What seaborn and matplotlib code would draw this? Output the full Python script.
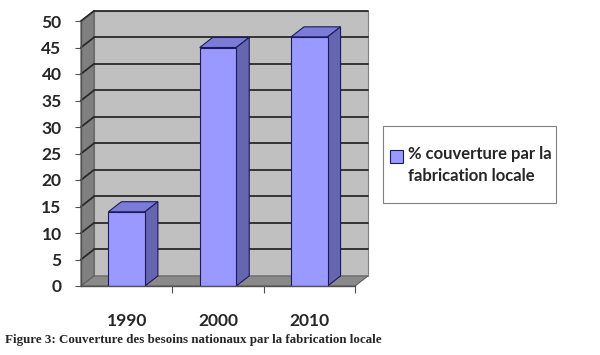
import matplotlib
matplotlib.use("Agg")
import matplotlib.pyplot as plt
import seaborn as sns
import pandas as pd
from matplotlib.patches import Polygon, Rectangle, Patch
from matplotlib.legend_handler import HandlerPatch

# data
years = ["1990", "2000", "2010"]
coverage = [14, 45, 47]
series_label = "% couverture par la\nfabrication locale"
caption = "Figure 3: Couverture des besoins nationaux par la fabrication locale"
y_ticks = list(range(0, 51, 5))

sns.set_style("white")
plt.rcParams["font.family"] = ["Lato", "DejaVu Sans"]

df = pd.DataFrame({"year": years, "coverage": coverage})

fig = plt.figure(figsize=(6, 3.55), dpi=100)
ax = fig.add_axes([81 / 600, 69 / 355, 274 / 600, 265 / 355])

sns.barplot(data=df, x="year", y="coverage", color="#9999FF", width=0.4,
            edgecolor="#1a1a5e", linewidth=0.8, saturation=1, ax=ax, zorder=5)

ax.set_xlim(-0.5, 2.5)
ax.set_ylim(0, 50)

# depth offset of the fake 3D box (in data units)
dx, dy = 0.142, 1.9
x0, x1 = -0.5, 2.5

# back wall, side wall and floor
ax.add_patch(Rectangle((x0 + dx, dy), x1 - x0, 50, facecolor="#C0C0C0",
                       edgecolor="#808080", lw=0.8, zorder=0, clip_on=False))
ax.add_patch(Polygon([(x0, 0), (x0 + dx, dy), (x0 + dx, 50 + dy), (x0, 50)],
                     closed=True, facecolor="#808080", edgecolor="#606060",
                     lw=0.8, zorder=1, clip_on=False))
ax.add_patch(Polygon([(x0, 0), (x1, 0), (x1 + dx, dy), (x0 + dx, dy)],
                     closed=True, facecolor="#8a8a8a", edgecolor="#606060",
                     lw=0.8, zorder=1, clip_on=False))

# gridlines on the back and side walls
for v in y_ticks[1:]:
    ax.plot([x0 + dx, x1 + dx], [v + dy, v + dy], color="#2a2a2a", lw=1.3,
            zorder=2, clip_on=False)
    ax.plot([x0, x0 + dx], [v, v + dy], color="#2a2a2a", lw=1.3,
            zorder=2, clip_on=False)

# top and side faces of each bar
bars = [p for p in ax.patches if isinstance(p, Rectangle) and p.get_zorder() == 5]
for bar in bars:
    bx, bw, bh = bar.get_x(), bar.get_width(), bar.get_height()
    top = Polygon([(bx, bh), (bx + dx, bh + dy), (bx + bw + dx, bh + dy), (bx + bw, bh)],
                  closed=True, facecolor="#7B7BD8", edgecolor="#1a1a5e",
                  lw=0.8, zorder=4, clip_on=False)
    side = Polygon([(bx + bw, 0), (bx + bw + dx, dy), (bx + bw + dx, bh + dy), (bx + bw, bh)],
                   closed=True, facecolor="#6666B0", edgecolor="#1a1a5e",
                   lw=0.8, zorder=4, clip_on=False)
    ax.add_patch(top)
    ax.add_patch(side)

for s in ["top", "right"]:
    ax.spines[s].set_visible(False)
for s in ["left", "bottom"]:
    ax.spines[s].set_color("#505050")
    ax.spines[s].set_linewidth(1.0)
    ax.spines[s].set_zorder(6)

ax.set_yticks(y_ticks)
ax.set_yticklabels([str(v) for v in y_ticks], fontsize=12.5, fontweight="bold")
ax.tick_params(axis="y", left=True, length=4, width=0.8, color="#505050", pad=10)
ax.set_xticks(range(len(years)))
ax.set_xticklabels(years, fontsize=12.5, fontweight="bold")
ax.tick_params(axis="x", bottom=False, pad=16)
ax.set_xticks([0.5, 1.5, 2.5], minor=True)
ax.tick_params(axis="x", which="minor", bottom=True, length=5, width=0.8,
               color="#505050", direction="out")
ax.set_xlabel("")
ax.set_ylabel("")


# legend square sits next to the first line of the two-line label
def top_square(legend, orig_handle, xdescent, ydescent, width, height, fontsize):
    s = 0.75 * fontsize
    return Rectangle((-xdescent, -ydescent + height - s), s, s)


# legend box drawn separately so its padding can match the reference
fig.patches.append(Rectangle((383 / 600, 1 - 203 / 355), 173 / 600, 77 / 355,
                             transform=fig.transFigure, facecolor="white",
                             edgecolor="#808080", lw=0.8, zorder=1))
handle = Patch(facecolor="#9999FF", edgecolor="#1a1a5e", lw=0.8)
leg = fig.legend([handle], [series_label], loc="center left",
                 bbox_to_anchor=(390 / 600, 1 - 165 / 355), frameon=False,
                 prop={"size": 12, "weight": "bold"},
                 handlelength=0.75, handleheight=2.6, handletextpad=0.3,
                 borderpad=0, borderaxespad=0,
                 handler_map={Patch: HandlerPatch(patch_func=top_square)})
leg.set_zorder(2)
for t in leg.get_texts():
    t.set_linespacing(1.5)

fig.text(5 / 600, 1 - 340 / 355, caption, ha="left", va="center",
         family=["Liberation Serif", "DejaVu Serif"], fontweight="bold", fontsize=9.4)

fig.savefig("out.png", dpi=100)
